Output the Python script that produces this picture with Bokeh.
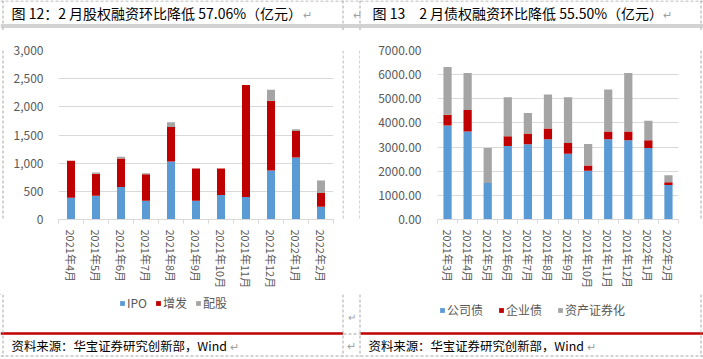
from bokeh.plotting import figure
from bokeh.models import Range1d, FixedTicker, NumeralTickFormatter, Legend, LegendItem, ColumnDataSource
from bokeh.layouts import row, column
from bokeh.core.properties import value
from bokeh.embed import file_html
from bokeh.resources import INLINE

FONT = "Noto Sans CJK SC"
SERIES_COLORS = ["#5B9BD5", "#C00000", "#A5A5A5"]
GRID = "#D9D9D9"
TICK_TXT = "#595959"
BORDER = "#A6A6A6"
MARK = "#A0A0A0"

# ---------------- data ----------------
eq_title = "图 12：2 月股权融资环比降低 57.06%（亿元）"
eq_months = ["2021年4月", "2021年5月", "2021年6月", "2021年7月", "2021年8月", "2021年9月",
             "2021年10月", "2021年11月", "2021年12月", "2022年1月", "2022年2月"]
eq_names = ["IPO", "增发", "配股"]
eq_ipo = [384, 420, 575, 331, 1030, 331, 436, 401, 872, 1100, 227]
eq_add = [657, 394, 506, 471, 610, 576, 471, 1988, 1238, 470, 244]
eq_rights = [0, 22, 35, 18, 87, 0, 0, 0, 192, 34, 222]
eq_ticks = [0, 500, 1000, 1500, 2000, 2500, 3000]

bd_title = "图 13\u30002 月债权融资环比降低 55.50%（亿元）"
bd_months = ["2021年3月", "2021年4月", "2021年5月", "2021年6月", "2021年7月", "2021年8月",
             "2021年9月", "2021年10月", "2021年11月", "2021年12月", "2022年1月", "2022年2月"]
bd_names = ["公司债", "企业债", "资产证券化"]
bd_corp = [3890, 3650, 1510, 3040, 3120, 3320, 2720, 2020, 3320, 3280, 2960, 1425]
bd_ent = [445, 885, 0, 405, 445, 445, 445, 215, 325, 365, 325, 120]
bd_abs = [1980, 1535, 1450, 1615, 850, 1415, 1900, 890, 1735, 2425, 805, 285]
bd_ticks = [0, 1000, 2000, 3000, 4000, 5000, 6000, 7000]

source_text = "资料来源：华宝证券研究创新部，Wind"

CHART_TOP = 30
CHART_BOTTOM = 294
CHART_H = CHART_BOTTOM - CHART_TOP


def make_chart(months, values, ticks, fmt, width, borders, bar_width, ylab_standoff):
    n = len(months)
    xs = list(range(n))
    data = {"x": xs}
    keys = []
    for i, vals in enumerate(values):
        k = f"s{i}"
        data[k] = vals
        keys.append(k)
    src = ColumnDataSource(data)
    bl, br, bt, bb = borders
    p = figure(width=width, height=CHART_H, output_backend="svg", toolbar_location=None,
               x_range=Range1d(-0.5, n - 0.5), y_range=Range1d(ticks[0], ticks[-1]),
               min_border_left=bl, min_border_right=br, min_border_top=bt, min_border_bottom=bb)
    p.outline_line_color = None
    p.background_fill_color = "white"
    p.border_fill_color = "white"
    p.vbar_stack(keys, x="x", width=bar_width, fill_color=SERIES_COLORS,
                 line_color=None, source=src)

    yax = p.yaxis[0]
    yax.ticker = FixedTicker(ticks=ticks)
    yax.formatter = NumeralTickFormatter(format=fmt)
    yax.axis_line_color = None
    yax.major_tick_line_color = None
    yax.minor_tick_line_color = None
    yax.major_tick_out = 0
    yax.major_tick_in = 0
    yax.major_label_standoff = ylab_standoff
    yax.major_label_text_font = FONT
    yax.major_label_text_font_size = "12px"
    yax.major_label_text_color = TICK_TXT
    p.ygrid.grid_line_color = GRID
    p.xgrid.visible = False

    xax = p.xaxis[0]
    xax.ticker = FixedTicker(ticks=xs, minor_ticks=[i - 0.5 for i in range(n + 1)])
    xax.major_label_overrides = {i: m for i, m in enumerate(months)}
    xax.major_label_orientation = "vertical"
    xax.axis_line_color = GRID
    xax.major_tick_line_color = None
    xax.major_tick_out = 0
    xax.major_tick_in = 0
    xax.minor_tick_line_color = GRID
    xax.minor_tick_out = 4
    xax.minor_tick_in = 0
    xax.major_label_standoff = 6
    xax.major_label_text_font = FONT
    xax.major_label_text_font_size = "11px"
    xax.major_label_text_color = TICK_TXT
    return p


def deco(x0, y0, w, h):
    p = figure(width=w, height=h, output_backend="svg", toolbar_location=None,
               x_range=Range1d(x0, x0 + w), y_range=Range1d(y0 + h, y0),
               x_axis_type=None, y_axis_type=None,
               min_border_left=0, min_border_right=0, min_border_top=0, min_border_bottom=0)
    p.outline_line_color = None
    p.grid.visible = False
    p.background_fill_color = "white"
    p.border_fill_color = "white"
    return p


def txt(p, x, y, s, size, color="black", align="left"):
    p.text(x=[x], y=[y], text=[s], text_font=value(FONT), text_font_size=size,
           text_color=color, text_baseline="middle", text_align=align)


def vdash(p, xs, y0, y1):
    p.segment(x0=xs, y0=[y0] * len(xs), x1=xs, y1=[y1] * len(xs),
              line_color=BORDER, line_width=1, line_dash="3 2")


def add_legend(p, names, loc, spacing):
    # legend keys: zero-height proxy bars placed outside the visible strip
    items = []
    for nm, c in zip(names, SERIES_COLORS):
        r = p.vbar(x=[-1000], top=[0], bottom=[0], width=1, fill_color=c, line_color=None)
        items.append(LegendItem(label=nm, renderers=[r]))
    lg = Legend(items=items, location=loc, orientation="horizontal",
                glyph_width=6, glyph_height=6, label_standoff=2, spacing=spacing,
                padding=0, margin=0, border_line_color=None, background_fill_alpha=0,
                label_text_font=FONT, label_text_font_size="12px", label_text_color=TICK_TXT,
                label_height=14, label_width=0)
    p.add_layout(lg)


VX = [2.5, 342.5, 359.5, 700.5]

# ---------------- title strip ----------------
top = deco(0, 0, 703, 30)
top.segment(x0=[0], y0=[0.5], x1=[703], y1=[0.5], line_color=BORDER, line_width=1, line_dash="3 2")
txt(top, 11, 12.5, eq_title, "14px")
txt(top, 302, 13, "↵", "11px", MARK)
txt(top, 352, 13, "↵", "11px", MARK)
txt(top, 372, 12.5, bd_title, "14px")
txt(top, 662, 13, "↵", "11px", MARK)
top.segment(x0=[0, 0], y0=[24.5, 26.5], x1=[703, 703], y1=[24.5, 26.5], line_color=BORDER, line_width=1)
vdash(top, VX, 0, 24)
vdash(top, VX, 27, 30)

# ---------------- charts ----------------
edge_l = deco(0, CHART_TOP, 8, CHART_H)
vdash(edge_l, [2.5], CHART_TOP, CHART_BOTTOM)

left = make_chart(eq_months, [eq_ipo, eq_add, eq_rights], eq_ticks, "0,0",
                  width=334, borders=(50, 9, 20, CHART_BOTTOM - 222), bar_width=0.32, ylab_standoff=15)

gap = deco(342, CHART_TOP, 18, CHART_H)
vdash(gap, [342.5, 359.5], CHART_TOP, CHART_BOTTOM)

right = make_chart(bd_months, [bd_corp, bd_ent, bd_abs], bd_ticks, "0.00",
                   width=335, borders=(77, 17, 16, CHART_BOTTOM - 219), bar_width=0.41, ylab_standoff=16)

edge_r = deco(695, CHART_TOP, 8, CHART_H)
vdash(edge_r, [700.5], CHART_TOP, CHART_BOTTOM)

# ---------------- legend strip ----------------
leg = deco(0, CHART_BOTTOM, 703, 330 - CHART_BOTTOM)
vdash(leg, VX, CHART_BOTTOM, 330)
txt(leg, 351, 316, "↵", "10px", MARK, align="center")
add_legend(leg, eq_names, (119, 19), 8)
add_legend(leg, bd_names, (439, 12), 15)

# ---------------- footer strip ----------------
bot = deco(0, 330, 703, 29)
bot.segment(x0=[0, 360], y0=[333, 333], x1=[342.5, 703], y1=[333, 333], line_color="#C00000", line_width=2.5)
bot.segment(x0=[343], y0=[333.5], x1=[359], y1=[333.5], line_color=BORDER, line_width=1, line_dash="3 2")
vdash(bot, VX, 330, 356)
bot.segment(x0=[0], y0=[355.5], x1=[703], y1=[355.5], line_color=BORDER, line_width=1, line_dash="3 2")
txt(bot, 11, 345, source_text, "12.4px")
txt(bot, 229, 345.5, "↵", "11px", MARK)
txt(bot, 351, 344.5, "↵", "11px", MARK, align="center")
txt(bot, 368, 345, source_text, "12.4px")
txt(bot, 586, 345.5, "↵", "11px", MARK)

layout = column(top, row(edge_l, left, gap, right, edge_r), leg, bot)

with open("out.html", "w") as f:
    f.write(file_html(layout, INLINE))
